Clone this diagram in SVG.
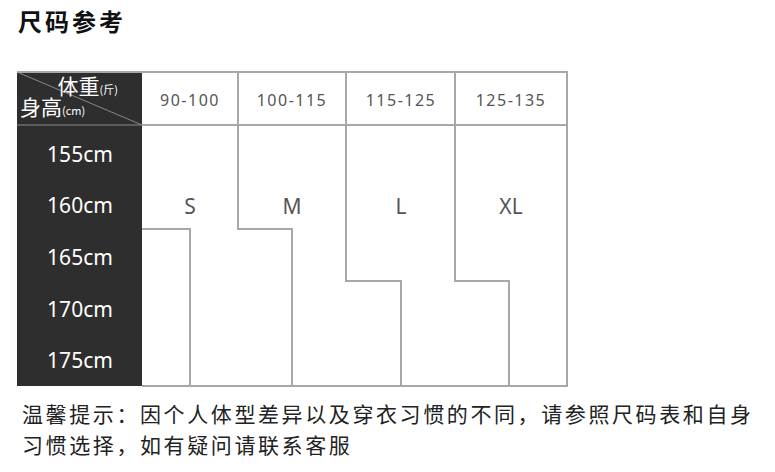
<svg xmlns="http://www.w3.org/2000/svg" width="775" height="472" viewBox="0 0 775 472">
<style>
.cjk{font-family:"Noto Sans CJK SC","Noto Sans",sans-serif}
.hd{font-family:"Noto Sans","Noto Sans CJK SC",sans-serif;font-size:16px;fill:#555;text-anchor:middle;letter-spacing:1.5px}
.row{font-family:"Noto Sans",sans-serif;font-size:21px;fill:#fff;text-anchor:middle}
.sz{font-family:"Noto Sans",sans-serif;font-size:21px;fill:#555;text-anchor:middle}
.ln{stroke:#a8a8a8;stroke-width:2;fill:none}
</style>
<rect width="775" height="472" fill="#fff"/>
<text x="18" y="31" class="cjk" font-size="24" font-weight="bold" fill="#111" letter-spacing="3">尺码参考</text>
<g id="table">
<rect x="17" y="72" width="125" height="314" fill="#2e2e2e"/>
<line x1="17" y1="72" x2="142" y2="125" stroke="#888" stroke-width="1"/>
<line x1="17" y1="125" x2="142" y2="125" stroke="#888" stroke-width="1"/>
<text x="118" y="94" class="cjk" font-size="21" fill="#fff" text-anchor="end">体重<tspan font-size="11">(斤)</tspan></text>
<text x="20" y="115" class="cjk" font-size="21" fill="#fff">身高<tspan font-size="11">(cm)</tspan></text>
</g>
<g id="lines">
<path class="ln" d="M17 72H567V386H142M142 125H567M238 72V125M346 72V125M455 72V125M142 229H190V386M238 125V229H292V386M346 125V281H401V386M455 125V281H509V386"/>
</g>
<g id="headers">
<text x="190" y="106" class="hd">90-100</text>
<text x="292" y="106" class="hd">100-115</text>
<text x="401" y="106" class="hd">115-125</text>
<text x="511" y="106" class="hd">125-135</text>
</g>
<g id="rows">
<text x="80" y="162" class="row">155cm</text>
<text x="80" y="213" class="row">160cm</text>
<text x="80" y="265" class="row">165cm</text>
<text x="80" y="317" class="row">170cm</text>
<text x="80" y="368" class="row">175cm</text>
</g>
<g id="sizes">
<text x="190" y="214" class="sz">S</text>
<text x="292" y="214" class="sz">M</text>
<text x="401" y="214" class="sz">L</text>
<text x="511" y="214" class="sz">XL</text>
</g>
<text x="22" y="422" class="cjk" font-size="21" fill="#222" letter-spacing="2.6">温馨提示：因个人体型差异以及穿衣习惯的不同，请参照尺码表和自身</text>
<text x="22" y="453" class="cjk" font-size="21" fill="#222" letter-spacing="2.6">习惯选择，如有疑问请联系客服</text>
</svg>
